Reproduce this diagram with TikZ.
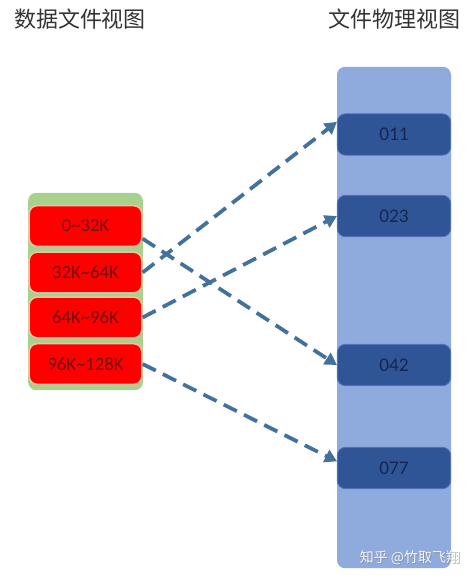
\documentclass[tikz,border=0pt]{standalone}
\usepackage{fontspec}
\usepackage{tikz}
\usepackage{xcolor}
\usetikzlibrary{arrows.meta}
\setmainfont{Carlito}
\newfontfamily\cjk{Noto Sans CJK SC}

\definecolor{segred}{RGB}{255,0,0}
\definecolor{segedge}{RGB}{246,190,160}
\definecolor{segtext}{RGB}{115,15,15}
\definecolor{framegreen}{RGB}{169,209,142}
\definecolor{frameblue}{RGB}{143,170,220}
\definecolor{blockblue}{RGB}{47,85,151}
\definecolor{blockedge}{RGB}{80,115,185}
\definecolor{blocktext}{RGB}{22,38,80}
\definecolor{arrowblue}{RGB}{65,113,156}
\definecolor{titlegray}{RGB}{51,51,51}

\tikzset{
  framebox/.style={draw=none, rounded corners=6pt, inner sep=0pt},
  segbox/.style={draw=segedge, line width=1.2pt, fill=segred, rounded corners=6pt,
    minimum width=84.5pt, minimum height=30.5pt, inner sep=0pt, text=segtext,
    font=\fontsize{14}{16}\selectfont},
  blockbox/.style={draw=blockedge, line width=0.6pt, fill=blockblue, rounded corners=6pt,
    minimum width=85pt, minimum height=31pt, inner sep=0pt, text=blocktext,
    font=\fontsize{14.5}{16}\selectfont},
  maparrow/.style={draw=arrowblue, line width=2.8pt, dash pattern={on 11pt off 6pt},
    -{Triangle[length=9pt,width=10pt]}},
  titletext/.style={text=titlegray, font=\cjk\fontsize{16.5}{18}\selectfont, inner sep=0.75pt},
  marktext/.style={font=\cjk\fontsize{10.5}{12}\selectfont, inner sep=0.75pt},
}

\begin{document}
\begin{tikzpicture}[x=0.75pt,y=0.75pt,yscale=-1,xscale=1]
\useasboundingbox (0,0) rectangle (474,579);

% Text Node
\node[titletext] (lefttitle) at (80,19) {数据文件视图};
% Text Node
\node[titletext] (righttitle) at (394,19) {文件物理视图};

%Rounded Rect
\node[framebox, fill=framegreen, minimum width=86pt, minimum height=148pt] (segframe) at (85.5,291.5) {};
%Rounded Rect
\node[framebox, fill=frameblue, minimum width=85.5pt, minimum height=376pt] (blkframe) at (394,317.5) {};

%Segments of the data file
\node[segbox] (seg1) at (85.5,226) {0\textasciitilde32K};
\node[segbox] (seg2) at (85.5,272.5) {32K\textasciitilde64K};
\node[segbox] (seg3) at (85.5,317.5) {64K\textasciitilde96K};
\node[segbox] (seg4) at (85.5,364) {96K\textasciitilde128K};

%Physical blocks
\node[blockbox] (blk011) at (394,134.5) {011};
\node[blockbox] (blk023) at (394,216) {023};
\node[blockbox] (blk042) at (394,365) {042};
\node[blockbox] (blk077) at (394,468) {077};

%Dashed arrows
\draw[maparrow] ([yshift=9.5pt]seg1.east) -- (blk042.west);
\draw[maparrow] (seg2.east) -- ([yshift=-9.5pt]blk011.west);
\draw[maparrow] (seg3.east) -- (blk023.west);
\draw[maparrow] (seg4.east) -- ([yshift=-5pt]blk077.west);

% Text Node (watermark, with a grey shadow)
\node[marktext, text=gray, opacity=0.6] (markshadow) at (410.8,558.8) {知乎 @竹取飞翔};
\node[marktext, text=white, opacity=0.9] (mark) at (410,558) {知乎 @竹取飞翔};

\end{tikzpicture}
\end{document}
